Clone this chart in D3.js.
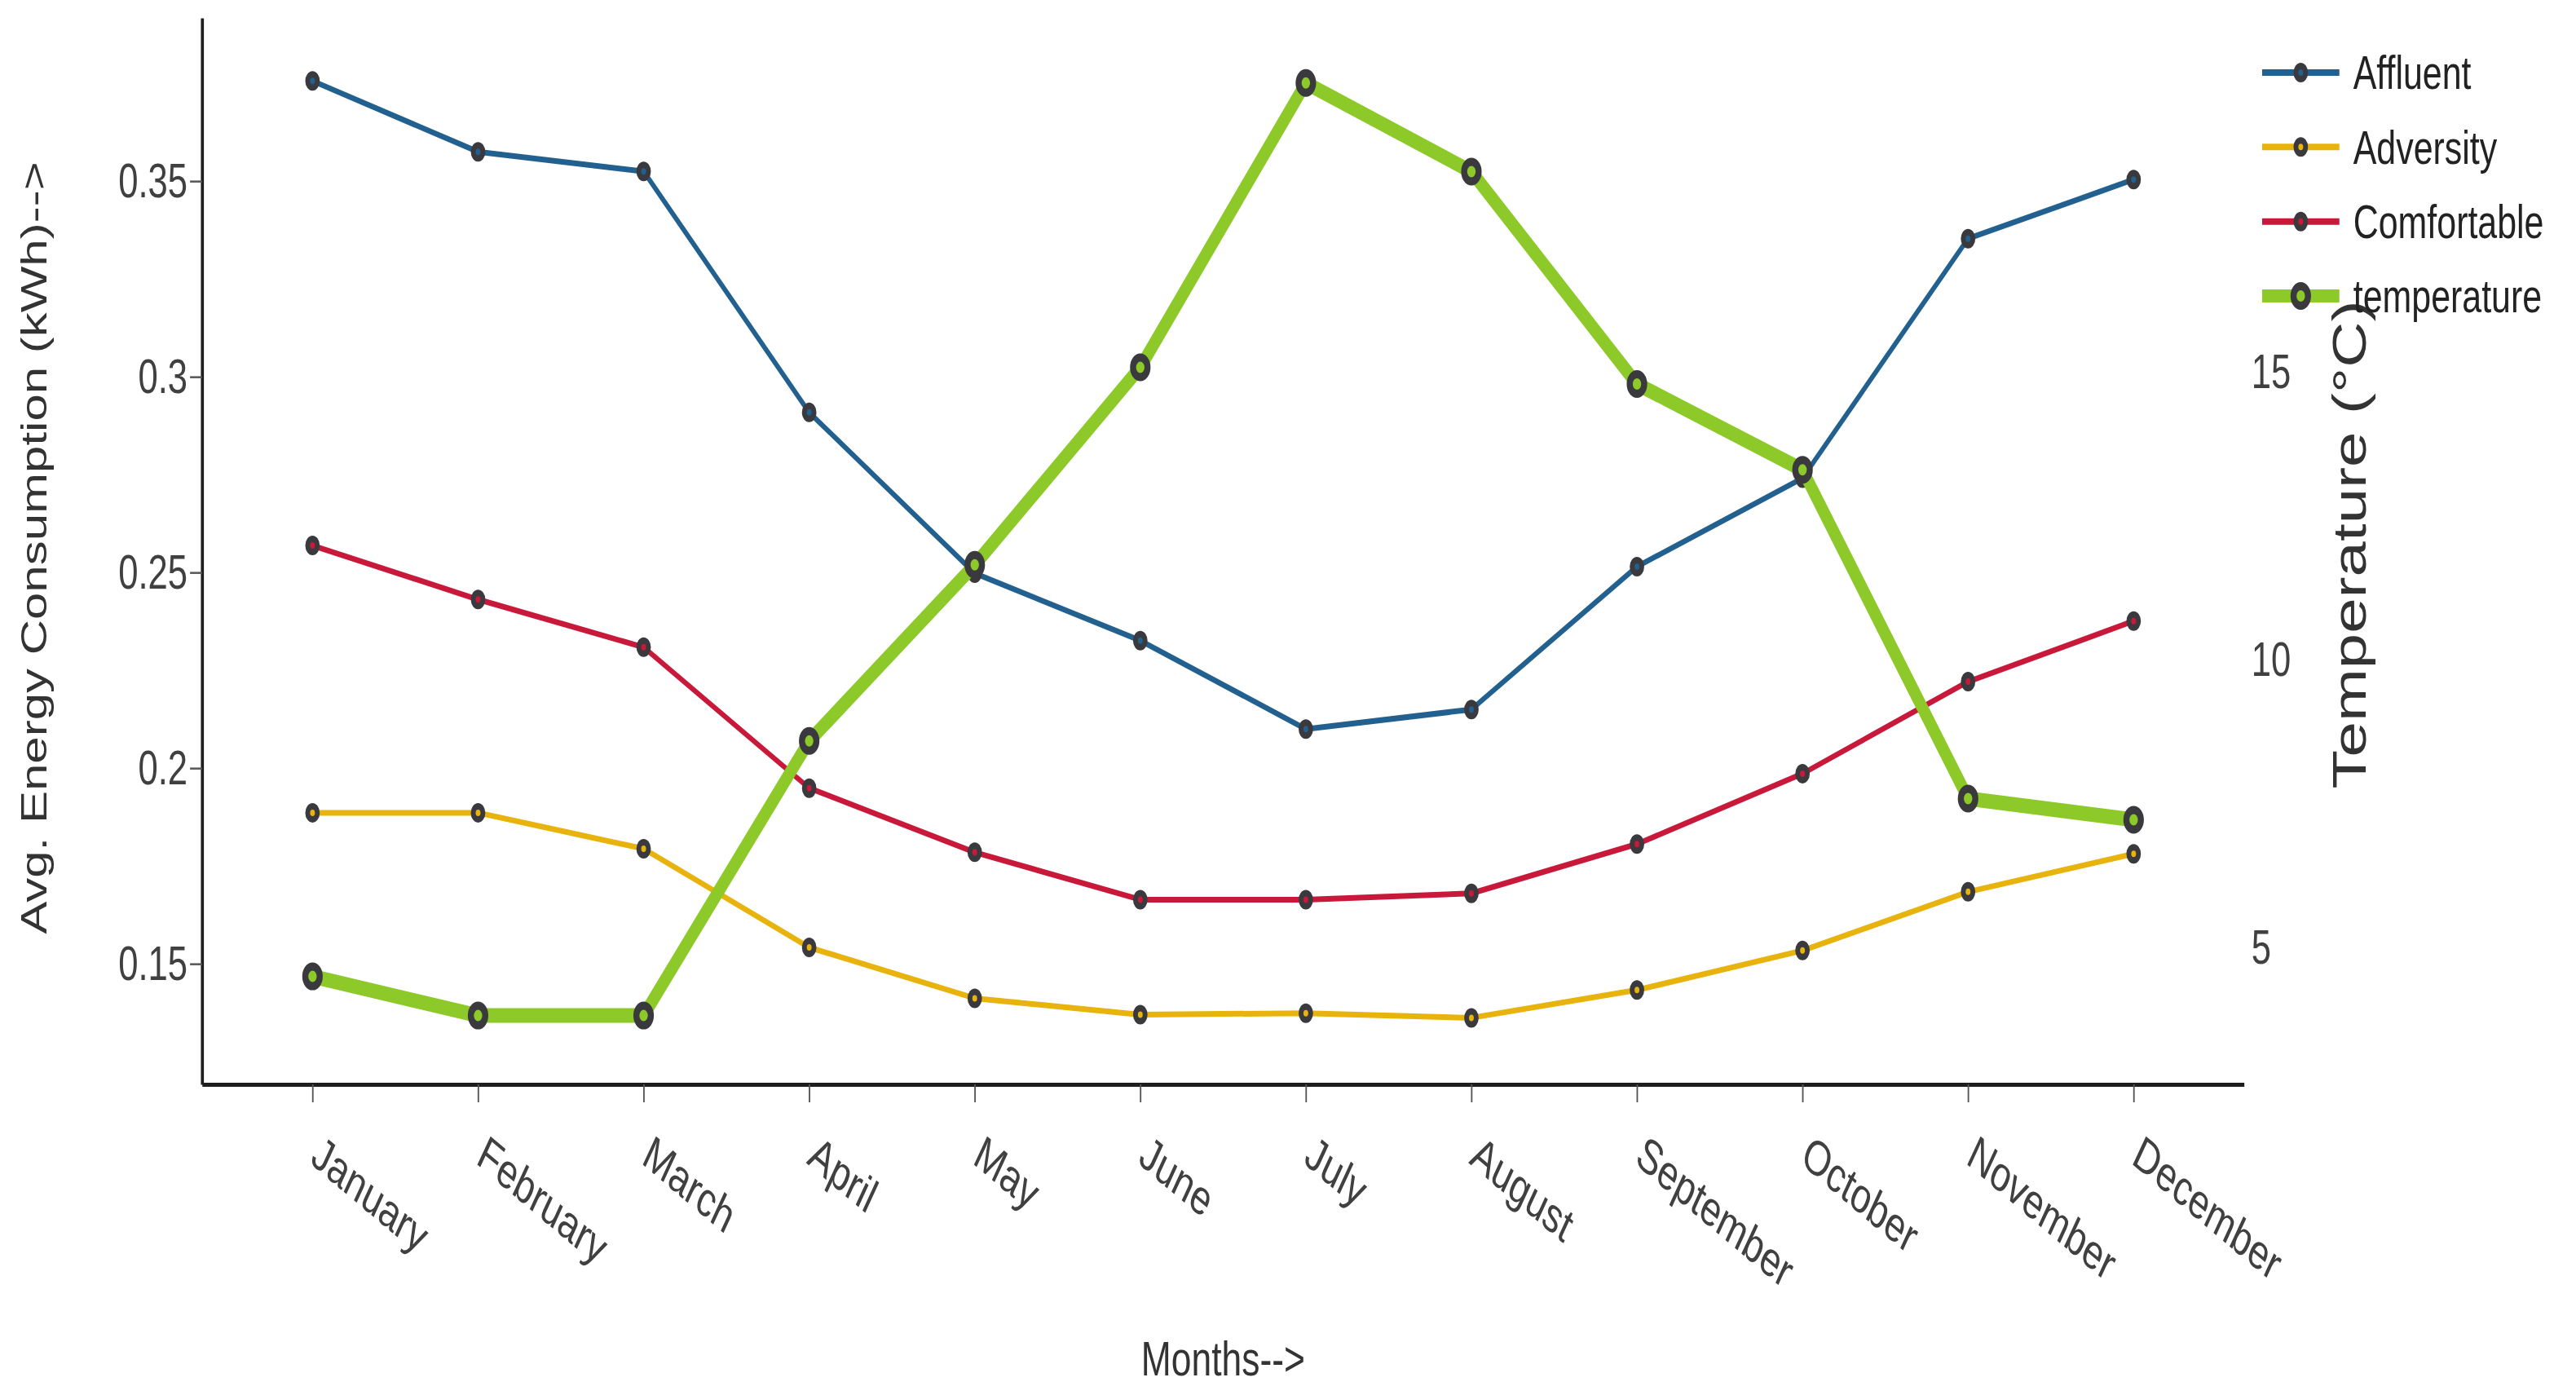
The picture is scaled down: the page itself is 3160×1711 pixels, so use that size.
<!DOCTYPE html>
<html>
<head>
<meta charset="utf-8">
<script src="https://cdn.jsdelivr.net/npm/d3@7"></script>
<style>
  html, body { margin: 0; padding: 0; background: #fff; }
  svg { display: block; }
  text { font-family: "Liberation Sans", Arial, Helvetica, sans-serif; }
</style>
</head>
<body>
<div id="wrapper"></div>
<script>
// data
const months = ["January", "February", "March", "April", "May", "June",
  "July", "August", "September", "October", "November", "December"]
const affluent    = [0.3756, 0.3575, 0.3525, 0.2909, 0.2498, 0.2326, 0.2100, 0.2150, 0.2515, 0.2741, 0.3353, 0.3504]
const adversity   = [0.1886, 0.1886, 0.1794, 0.1542, 0.1412, 0.1370, 0.1374, 0.1362, 0.1433, 0.1534, 0.1684, 0.1781]
const comfortable = [0.2569, 0.2431, 0.2309, 0.1949, 0.1785, 0.1664, 0.1664, 0.1680, 0.1806, 0.1986, 0.2221, 0.2376]
const temperature = [4.51, 3.83, 3.83, 8.60, 11.66, 15.09, 20.03, 18.49, 14.80, 13.31, 7.60, 7.23]
const energyTicks = [0.15, 0.2, 0.25, 0.3, 0.35]
const tempTicks = [5, 10, 15]
const seriesNames = ["Affluent", "Adversity", "Comfortable", "temperature"]

function drawChart() {

  // 1. Dimensions
  // the original picture is squeezed sideways, so draw wide and let the viewBox squash it
  const squeeze = 0.74
  const width = 3160
  const height = 1711
  const vbWidth = width / squeeze
  const dims = {
    left: 335,
    right: 3720,
    top: 22,
    bottom: 1330,
  }

  // 2. Canvas
  const svg = d3.select("#wrapper")
    .append("svg")
      .attr("width", width)
      .attr("height", height)
      .attr("viewBox", `0 0 ${vbWidth} ${height}`)
      .attr("preserveAspectRatio", "none")

  // 3. Scales
  const x = d3.scalePoint()
    .domain(months)
    .range([dims.left, dims.right])
    .padding(0.667)

  const y = d3.scaleLinear()
    .domain([0.1192, 0.3917])
    .range([dims.bottom, dims.top])

  const yTemp = d3.scaleLinear()
    .domain([2.635, 21.16])
    .range([dims.bottom, dims.top])

  const series = [
    { name: seriesNames[0], values: affluent,    color: "#22608f", scale: y,     width: 7,  r: 8,    sw: 8 },
    { name: seriesNames[1], values: adversity,   color: "#e8b30d", scale: y,     width: 7,  r: 8,    sw: 8 },
    { name: seriesNames[2], values: comfortable, color: "#c9193b", scale: y,     width: 7,  r: 8,    sw: 8 },
    { name: seriesNames[3], values: temperature, color: "#8cc929", scale: yTemp, width: 18, r: 12,   sw: 10 },
  ]
  const markerStroke = "#3a3a3e"

  // 4. Axes
  const leftAxis = svg.append("g")
      .attr("transform", `translate(${dims.left},0)`)
      .call(d3.axisLeft(y)
        .tickValues(energyTicks)
        .tickFormat(d3.format("~g"))
        .tickSizeInner(20)
        .tickSizeOuter(0)
        .tickPadding(4))
  leftAxis.select(".domain").attr("stroke", "#1e1e1e").attr("stroke-width", 5)
  leftAxis.selectAll(".tick line").attr("stroke", "#555").attr("stroke-width", 2.5)
  leftAxis.selectAll(".tick text")
      .attr("font-size", 59)
      .attr("fill", "#404040")

  const bottomAxis = svg.append("g")
      .attr("transform", `translate(0,${dims.bottom})`)
      .call(d3.axisBottom(x)
        .tickSizeInner(22)
        .tickSizeOuter(0))
  bottomAxis.select(".domain").attr("stroke", "#1e1e1e").attr("stroke-width", 5)
  bottomAxis.selectAll(".tick line").attr("stroke", "#555").attr("stroke-width", 2.5)
  bottomAxis.selectAll(".tick text")
      .attr("x", 0)
      .attr("y", 0)
      .attr("dy", 0)
      .attr("text-anchor", "start")
      .attr("transform", "translate(-6,96) rotate(32)")
      .attr("font-size", 60)
      .attr("fill", "#404040")

  const rightAxis = svg.append("g")
      .attr("transform", `translate(${dims.right},0)`)
      .call(d3.axisRight(yTemp)
        .tickValues(tempTicks)
        .tickSize(0)
        .tickPadding(12))
  rightAxis.select(".domain").remove()
  rightAxis.selectAll(".tick text")
      .attr("font-size", 59)
      .attr("fill", "#404040")

  // axis titles
  svg.append("text")
      .attr("transform", "translate(77,672) rotate(-90)")
      .attr("text-anchor", "middle")
      .attr("font-size", 60)
      .attr("fill", "#333")
      .text("Avg. Energy Consumption (kWh)-->")

  svg.append("text")
      .attr("transform", "translate(3921,668) rotate(-90)")
      .attr("text-anchor", "middle")
      .attr("font-size", 78)
      .attr("fill", "#333")
      .text("Temperature (°C)")

  svg.append("text")
      .attr("x", (dims.left + dims.right) / 2)
      .attr("y", 1687)
      .attr("text-anchor", "middle")
      .attr("font-size", 60)
      .attr("fill", "#333")
      .text("Months-->")

  // 5. Lines and markers
  series.forEach(s => {
    const lineGenerator = d3.line()
      .x((d, i) => x(months[i]))
      .y(d => s.scale(d))

    svg.append("path")
        .datum(s.values)
        .attr("d", lineGenerator)
        .attr("fill", "none")
        .attr("stroke", s.color)
        .attr("stroke-width", s.width)
        .attr("stroke-linejoin", "round")

    svg.append("g")
      .selectAll("circle")
      .data(s.values)
      .join("circle")
        .attr("cx", (d, i) => x(months[i]))
        .attr("cy", d => s.scale(d))
        .attr("r", s.r)
        .attr("fill", s.color)
        .attr("stroke", markerStroke)
        .attr("stroke-width", s.sw)
  })

  // 6. Legend
  const legend = svg.append("g")
  const legendY = d3.scalePoint().domain(seriesNames).range([89, 363])
  series.forEach(s => {
    const row = legend.append("g")
        .attr("transform", `translate(0,${legendY(s.name)})`)
    row.append("line")
        .attr("x1", 3750)
        .attr("x2", 3878)
        .attr("stroke", s.color)
        .attr("stroke-width", s.name == "temperature" ? 16 : 8)
    row.append("circle")
        .attr("cx", 3814)
        .attr("r", s.r)
        .attr("fill", s.color)
        .attr("stroke", markerStroke)
        .attr("stroke-width", s.sw)
    row.append("text")
        .attr("x", 3901)
        .attr("dy", "0.35em")
        .attr("font-size", 58)
        .attr("fill", "#222")
        .text(s.name)
  })
}
drawChart()
</script>
</body>
</html>
